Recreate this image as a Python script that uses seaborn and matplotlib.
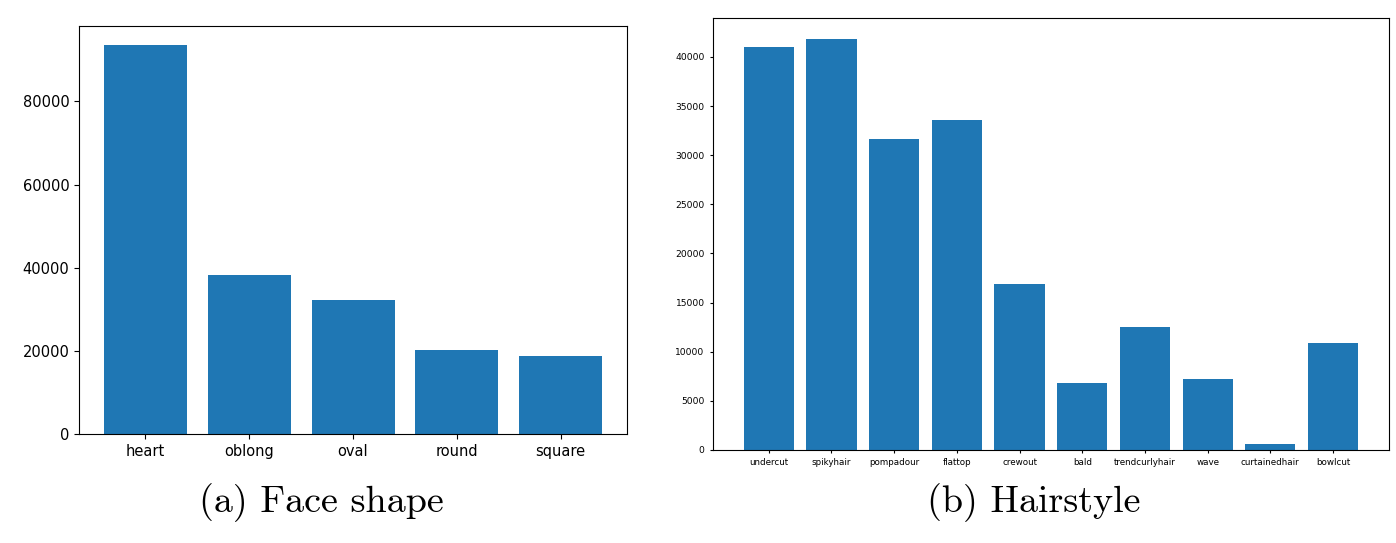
import matplotlib
matplotlib.use("Agg")
import matplotlib.pyplot as plt
import seaborn as sns
import pandas as pd

# =====================================================
# Data
# =====================================================

face_shapes = ["heart", "oblong", "oval", "round", "square"]
face_counts = [93440, 38250, 32150, 20250, 18880]

hairstyles = ["undercut", "spikyhair", "pompadour", "flattop", "crewout",
              "bald", "trendcurlyhair", "wave", "curtainedhair", "bowlcut"]
hair_counts = [41060, 41840, 31600, 33600, 16870,
               6810, 12500, 7215, 580, 10840]

bar_color = "#1f77b4"

face_df = pd.DataFrame({"shape": face_shapes, "count": face_counts})
hair_df = pd.DataFrame({"style": hairstyles, "count": hair_counts})

# =====================================================
# Figure
# =====================================================

fig = plt.figure(figsize=(13.96, 5.43), dpi=100)

ax1 = fig.add_axes([0.0566, 0.2007, 0.3926, 0.7514])
ax2 = fig.add_axes([0.5107, 0.1713, 0.4842, 0.7950])


def draw(ax, df, xcol, tick_x, tick_y, tick_len):
    sns.barplot(data=df, x=xcol, y="count", ax=ax,
                color=bar_color, saturation=1, width=0.8)
    n = len(df)
    pad = 0.05 * (n - 1 + 0.8)
    ax.set_xlim(-0.4 - pad, n - 1 + 0.4 + pad)
    ax.set_ylim(0, df["count"].max() * 1.05)
    ax.set_xlabel("")
    ax.set_ylabel("")
    for s in ax.spines.values():
        s.set_visible(True)
        s.set_color("black")
        s.set_linewidth(0.8)
    ax.tick_params(axis="x", labelsize=tick_x, length=tick_len,
                   width=0.8, colors="black")
    ax.tick_params(axis="y", labelsize=tick_y, length=tick_len,
                   width=0.8, colors="black")


draw(ax1, face_df, "shape", 10.5, 10.5, 3.5)
draw(ax2, hair_df, "style", 6.3, 6.6, 2.5)

# =====================================================
# Captions
# =====================================================

fig.text(0.2300, 0.074, "(a) Face shape", fontfamily="cmr10",
         fontsize=27.4, ha="center", va="center")
fig.text(0.7407, 0.074, "(b) Hairstyle", fontfamily="cmr10",
         fontsize=27.4, ha="center", va="center")

fig.savefig("out.png", dpi=100)
plt.close()
